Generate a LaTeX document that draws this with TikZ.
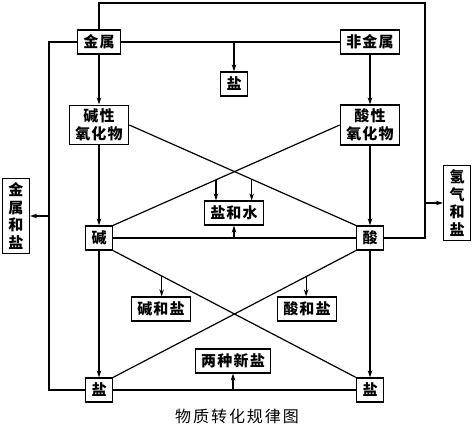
\documentclass[tikz,border=0pt]{standalone}
\usepackage{fontspec}
\newfontfamily\cjk[LetterSpace=8]{Noto Sans CJK SC}
\newfontfamily\cjktitle[LetterSpace=12]{Noto Sans CJK SC}
\usetikzlibrary{
  arrows.meta,
}
\tikzset{
  box/.style={draw, line width=1.2pt, font=\cjk\bfseries\fontsize{15}{17.5}\selectfont,
    inner xsep=6pt, inner ysep=4pt, minimum height=24pt, align=center},
  flow/.style={line width=1.2pt},
  arr/.style={flow, -{Stealth[length=7pt,width=4.5pt]}},
}

\begin{document}
\begin{tikzpicture}[x=1pt,y=-1pt]
\useasboundingbox (0,0) rectangle (474,430);
\node[box] (metal) at (99,42) {金属};
\node[box] (nonmetal) at (370,42) {非金属};
\node[box] (salt) at (234,84) {盐};
\node[box] (baseox) at (99,125) {碱性\\氧化物};
\node[box] (acidox) at (370,125) {酸性\\氧化物};
\node[box] (metsalt) at (16,216) {金\\属\\和\\盐};
\node[box] (hydsalt) at (457,203) {氢\\气\\和\\盐};
\node[box] (base) at (99,238) {碱};
\node[box] (acid) at (370,238) {酸};
\node[box] (saltwater) at (234,213) {盐和水};
\node[box] (basesalt) at (161,309) {碱和盐};
\node[box] (acidsalt) at (307,309) {酸和盐};
\node[box] (newsalts) at (233,361) {两种新盐};
\node[box] (saltL) at (99,390) {盐};
\node[box] (saltR) at (370,390) {盐};
\node[font=\cjktitle\fontsize{16}{18}\selectfont] (title) at (237,416) {物质转化规律图};
\coordinate (topR) at (425,3);
\coordinate (leftL) at (49,42);
\draw[flow] (metal) -- (nonmetal);
\draw[arr] (salt |- metal) -- (salt);
\draw[arr] (metal) -- (baseox);
\draw[arr] (nonmetal) -- (acidox);
\draw[arr] (baseox) -- (base);
\draw[arr] (acidox) -- (acid);
\draw[arr] (base) -- (saltL);
\draw[arr] (acid) -- (saltR);
\draw[flow] (base) -- (acid);
\draw[arr] (saltwater |- base) -- (saltwater);
\draw[flow] (saltL) -- (saltR);
\draw[arr] (newsalts |- saltL) -- (newsalts);
\draw[flow] (metal.north) |- (topR) |- (acid.east);
\draw[arr] (topR |- hydsalt) -- (hydsalt);
\draw[flow] (metal.west) -- (leftL) |- (saltL.west);
\draw[arr] (leftL |- metsalt) -- (metsalt);
\draw[flow] (baseox.east) -- coordinate[pos=0.54] (d1) (acid.north west);
\draw[flow] (acidox.west) -- coordinate[pos=0.546] (d2) (base.north east);
\draw[arr] (d1) -- (d1 |- saltwater.north);
\draw[arr] (d2) -- (d2 |- saltwater.north);
\draw[flow] (base.south east) -- coordinate[pos=0.2] (d3) (saltR.north west);
\draw[flow] (acid.south west) -- coordinate[pos=0.205] (d4) (saltL.north east);
\draw[arr] (d3) -- (d3 |- basesalt.north);
\draw[arr] (d4) -- (d4 |- acidsalt.north);
\end{tikzpicture}
\end{document}
